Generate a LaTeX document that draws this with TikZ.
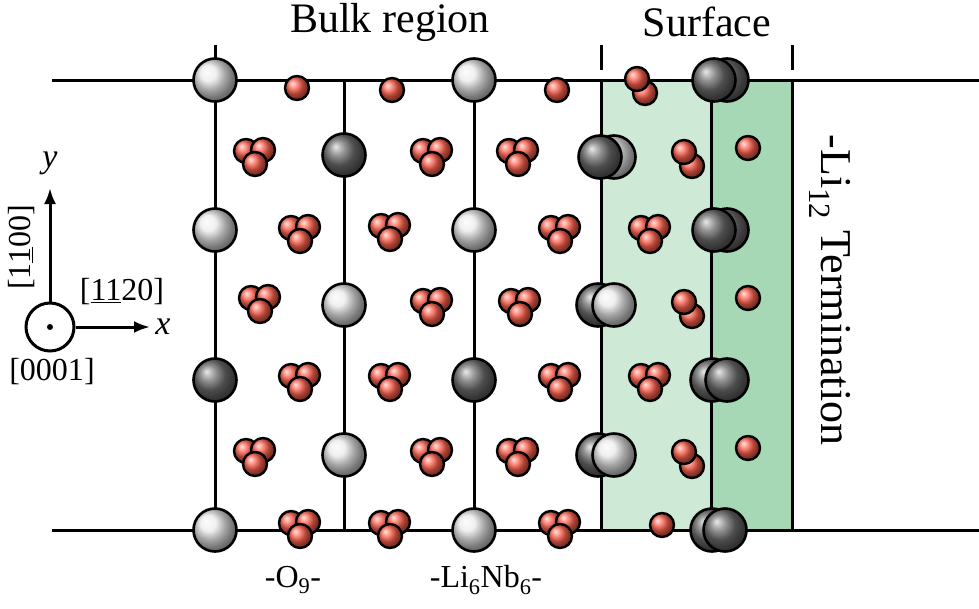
\documentclass[tikz,border=0pt]{standalone}
\usepackage{fontspec}
\usetikzlibrary{arrows.meta}
\setmainfont{Liberation Serif}
\definecolor{glight}{RGB}{206,233,214}
\definecolor{gdark}{RGB}{166,216,181}
\definecolor{oxred}{RGB}{250,95,75}
\definecolor{ltg}{RGB}{235,235,235}
\definecolor{dkg}{RGB}{110,110,110}
\begin{document}
\begin{tikzpicture}[x=1pt,y=-1pt,
  lt/.style={circle,draw=black,line width=2.6pt,inner sep=0pt,minimum size=43pt,ball color=ltg},
  dk/.style={circle,draw=black,line width=2.6pt,inner sep=0pt,minimum size=43pt,ball color=dkg},
  ox/.style={circle,draw=black,line width=2.4pt,inner sep=0pt,minimum size=24pt,ball color=oxred},
  ln/.style={line width=3pt}]
\useasboundingbox (0,0) rectangle (979,608);
\fill[glight] (601,80) rectangle (711,530);
\fill[gdark] (711,80) rectangle (792,530);
\draw[ln] (52,80) -- (979,80);
\draw[ln] (52,530) -- (979,530);
\foreach \x in {215,344,474,601,711,792} \draw[ln] (\x,80) -- (\x,530);
\foreach \x in {215,601,792} \draw[ln] (\x,45) -- (\x,70);
% big atoms
\node[lt] (a1) at (215,80) {}; \node[lt] (a2) at (215,230) {}; \node[dk] (a3) at (215,380) {}; \node[lt] (a4) at (215,530) {};
\node[dk] (b1) at (344,155) {}; \node[lt] (b2) at (344,305) {}; \node[lt] (b3) at (344,455) {};
\node[lt] (c1) at (474,80) {}; \node[lt] (c2) at (474,230) {}; \node[dk] (c3) at (474,380) {}; \node[lt] (c4) at (474,530) {};
\node[lt] (d1b) at (614,157) {}; \node[dk] (d1) at (600,157) {};
\node[dk] (d2b) at (598,305) {}; \node[lt] (d2) at (614,305) {};
\node[dk] (d3b) at (598,455) {}; \node[lt] (d3) at (614,455) {};
\node[dk] (e1b) at (727,80) {}; \node[dk] (e1) at (714,80) {};
\node[dk] (e2b) at (727,230) {}; \node[dk] (e2) at (714,230) {};
\node[dk] (e3b) at (712,380) {}; \node[dk] (e3) at (727,380) {};
\node[dk] (e4b) at (712,530) {}; \node[dk] (e4) at (725,530) {};
% oxygen singles
\foreach \x/\y [count=\i] in {297/88,392/90,557/90,748/148,748/298,748/448,662/525}
  \node[ox] (s\i) at (\x,\y) {};
% pairs
\foreach \x/\y [count=\i] in {637/79,684/152,684/302,684/452}
  {\node[ox] (pb\i) at (\x+8,\y+14) {}; \node[ox] (pa\i) at (\x,\y) {};}
% triple clusters
\foreach \x/\y [count=\i] in {255/155,432/155,518/155,300/232,390/230,560/232,650/232,
  260/302,432/305,520/305,300/380,390/380,560/380,650/380,255/455,432/455,518/455,300/527,390/527,560/527}
  {\node[ox] (ta\i) at (\x-9,\y-4) {}; \node[ox] (tb\i) at (\x+8,\y-5) {}; \node[ox] (tc\i) at (\x,\y+9) {};}
% labels
\node[font=\fontsize{42}{42}\selectfont] (bulk) at (390,22) {Bulk region};
\node[font=\fontsize{42}{42}\selectfont] (surf) at (707,22) {Surface};
\node[font=\fontsize{44}{44}\selectfont,rotate=-90] (term) at (830,290) {-Li\textsubscript{12} Termination};
\node[font=\fontsize{32}{32}\selectfont] (o9) at (293,580) {-O\textsubscript{9}-};
\node[font=\fontsize{32}{32}\selectfont] (linb) at (486,580) {-Li\textsubscript{6}Nb\textsubscript{6}-};
% axes
\node[circle,draw,line width=3pt,minimum size=48pt,inner sep=0pt] (z) at (50,327) {};
\fill (z.center) circle (3pt);
\coordinate (ytip) at (50,188); \coordinate (xtip) at (150,327);
\draw[line width=3pt,-{Latex[length=16pt,width=12pt]}] (z.north) -- (ytip);
\draw[line width=3pt,-{Latex[length=16pt,width=12pt]}] (z.east) -- (xtip);
\node[font=\fontsize{34}{34}\selectfont\itshape] (yl) at (50,163) {y};
\node[font=\fontsize{34}{34}\selectfont\itshape] (xl) at (163,327) {x};
\node[font=\fontsize{32}{32}\selectfont,rotate=90] (yd) at (22,247) {[1\underline{1}00]};
\node[font=\fontsize{32}{32}\selectfont] (xd) at (122,292) {[\underline{11}20]};
\node[font=\fontsize{32}{32}\selectfont] (zd) at (52,372) {[0001]};
\end{tikzpicture}
\end{document}
